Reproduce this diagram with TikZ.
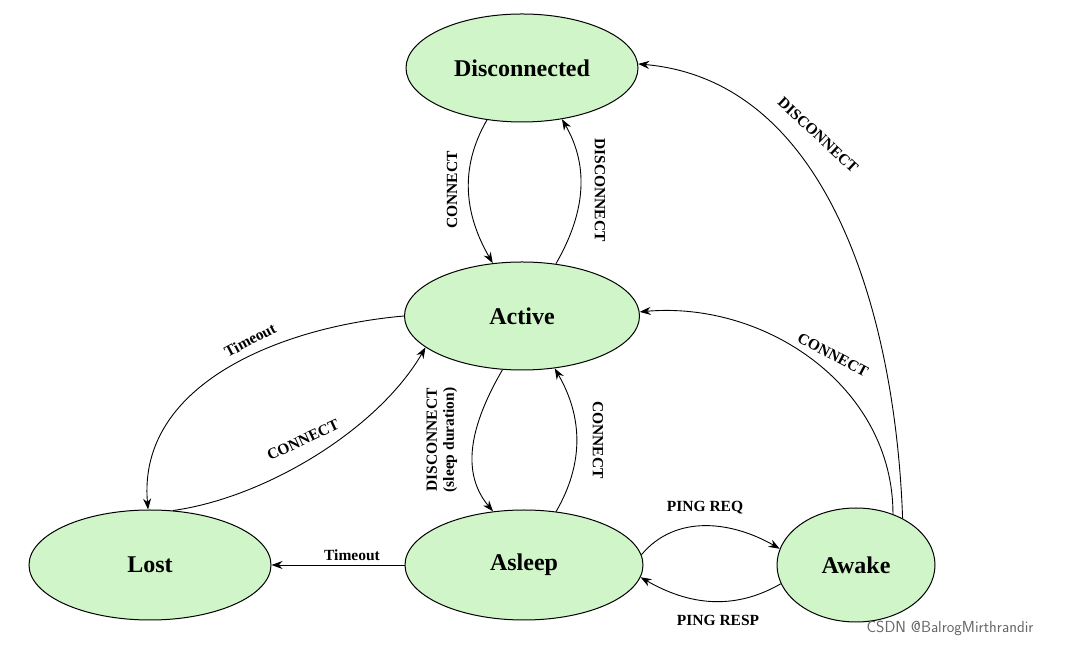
\documentclass[tikz,border=0pt]{standalone}
\usepackage{fontspec}
\setmainfont{Liberation Serif}
\usetikzlibrary{shapes.geometric,arrows.meta}
\definecolor{stategreen}{RGB}{208,245,200}
\tikzset{
  state/.style={shape=ellipse, draw, line width=1pt, fill=stategreen, inner sep=0pt,
    font=\fontsize{24}{28}\selectfont\bfseries},
  lbl/.style={font=\fontsize{15.5}{17}\selectfont\bfseries, inner sep=1pt, align=center},
  arr/.style={-{Stealth[length=11pt,width=8pt]}, line width=0.9pt}
}
\begin{document}
\begin{tikzpicture}[x=1pt,y=1pt]
	\useasboundingbox (0,0) rectangle (1070,650);
	
	\node (dis)[state, minimum width=232, minimum height=108] at (522,582) {Disconnected};
	\node (act)[state, minimum width=235, minimum height=108] at (522,334) {Active};
	\node (lost)[state, minimum width=242, minimum height=110] at (150,85) {Lost};
	\node (asl)[state, minimum width=238, minimum height=110] at (524,85) {Asleep};
	\node (awk)[state, minimum width=158, minimum height=114] at (856,85) {Awake};
	
	\draw[arr] (dis.236) to[out=240,in=120] (act.119);
	\draw[arr] (act.57) to[out=60,in=-60] (dis.308);
	\draw[arr] (awk.45) to[out=92,in=-5,looseness=0.95] (dis.2);
	\draw[arr] (awk.54) to[out=90,in=5] (act.2);
	\draw[arr] (act.180) to[out=185,in=95] (lost.92);
	\draw[arr] (lost.67) to[out=8,in=240,looseness=0.8] (act.198);
	\draw[arr] (act.250) to[out=240,in=130] (asl.120);
	\draw[arr] (asl.59) to[out=60,in=-60] (act.302);
	\draw[arr] (asl.west) -- (lost.east);
	\draw[arr] (asl.5) to[out=50,in=150] (awk.168);
	\draw[arr] (awk.194) to[out=210,in=-30] (asl.-6);
	
	% labels
	\node (l1)[lbl, rotate=90] at (452,460) {CONNECT};
	\node (l2)[lbl, rotate=-90] at (600,460) {DISCONNECT};
	\node (l3)[lbl, rotate=-43] at (818,515) {DISCONNECT};
	\node (l4)[lbl, rotate=-28] at (833,295) {CONNECT};
	\node (l5)[lbl, rotate=28] at (250,310) {Timeout};
	\node (l6)[lbl, rotate=25] at (303,210) {CONNECT};
	\node (l7)[lbl, rotate=90] at (442,210) {DISCONNECT\\(sleep duration)};
	\node (l8)[lbl, rotate=-90] at (598,210) {CONNECT};
	\node (l9)[lbl] at (352,95) {Timeout};
	\node (l10)[lbl] at (705,142) {PING REQ};
	\node (l11)[lbl] at (718,30) {PING RESP};
	
	\node (wm)[font=\fontsize{16}{18}\selectfont\sffamily, text=gray!80!black] at (950,22) {CSDN @BalrogMirthrandir};
\end{tikzpicture}
\end{document}
